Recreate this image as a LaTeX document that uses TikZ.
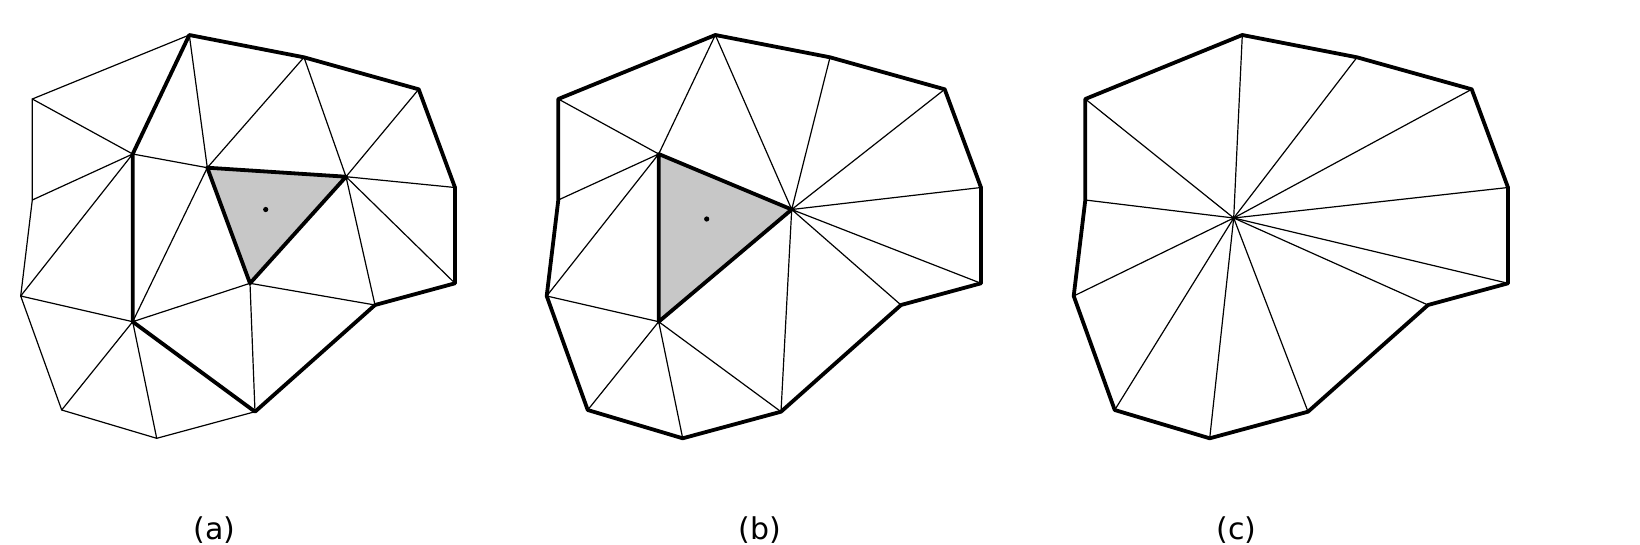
\documentclass[tikz,border=0pt]{standalone}
\usepackage{fontspec}
\newfontfamily\labfont{DejaVu Sans}
\definecolor{shade}{RGB}{199,199,199}
\tikzset{
  thinedge/.style={line width=1.2pt, line cap=round},
  thickedge/.style={line width=3.8pt, line join=round, line cap=round},
  cell/.style={fill=shade},
  ptdot/.style={fill=black},
  lab/.style={font=\labfont\fontsize{30}{36}\selectfont, anchor=base, inner sep=0pt}
}
\newcommand\outerpts[1]{%
  \coordinate (#1A) at (189.3,35);
  \coordinate (#1B) at (304,57.3);
  \coordinate (#1C) at (418.7,89.3);
  \coordinate (#1D) at (455,187.5);
  \coordinate (#1E) at (455,283.3);
  \coordinate (#1F) at (375,305);
  \coordinate (#1G) at (255,411.7);
  \coordinate (#1H) at (156.7,438.3);
  \coordinate (#1I) at (61.7,410);
  \coordinate (#1J) at (20.7,296);
  \coordinate (#1K) at (32.3,200);
  \coordinate (#1L) at (32.3,99);
}
\begin{document}
\begin{tikzpicture}[x=1pt,y=-1pt]
\useasboundingbox (0,0) rectangle (1640,544);
% ---------------- panel (a)
\outerpts{a}
\coordinate (aM) at (132.7,154);
\coordinate (aN) at (132.7,321.7);
\coordinate (aP) at (207.3,167.7);
\coordinate (aQ) at (346,176.7);
\coordinate (aR) at (250,283.3);
\fill[cell] (aP) -- (aQ) -- (aR) -- cycle;
\draw[thinedge] (aG) -- (aH) -- (aI) -- (aJ) -- (aK) -- (aL) -- (aA);
\draw[thinedge] (aL) -- (aM) (aK) -- (aM) (aJ) -- (aM) (aJ) -- (aN)
  (aI) -- (aN) (aH) -- (aN) (aG) -- (aR) (aN) -- (aR) (aN) -- (aP)
  (aM) -- (aP) (aA) -- (aP) (aP) -- (aB) (aB) -- (aQ) (aQ) -- (aC)
  (aQ) -- (aD) (aQ) -- (aE) (aQ) -- (aF) (aR) -- (aF);
\draw[thickedge] (aA) -- (aB) -- (aC) -- (aD) -- (aE) -- (aF) -- (aG) -- (aN) -- (aM) -- cycle;
\draw[thickedge] (aP) -- (aQ) -- (aR) -- cycle;
\fill[ptdot] (265.7,209.5) circle (2.6pt);
% ---------------- panel (b)
\begin{scope}[xshift=526pt]
\outerpts{b}
\coordinate (bM) at (132.7,154);
\coordinate (bN) at (132.7,321.7);
\coordinate (bQ) at (265.7,209.5);
\fill[cell] (bM) -- (bQ) -- (bN) -- cycle;
\draw[thinedge] (bQ) -- (bA) (bQ) -- (bB) (bQ) -- (bC) (bQ) -- (bD)
  (bQ) -- (bE) (bQ) -- (bF) (bQ) -- (bG)
  (bN) -- (bG) (bN) -- (bH) (bN) -- (bI) (bN) -- (bJ)
  (bM) -- (bJ) (bM) -- (bK) (bM) -- (bL) (bM) -- (bA);
\draw[thickedge] (bA) -- (bB) -- (bC) -- (bD) -- (bE) -- (bF) -- (bG) -- (bH) -- (bI) -- (bJ) -- (bK) -- (bL) -- cycle;
\draw[thickedge] (bM) -- (bQ) -- (bN) -- cycle;
\fill[ptdot] (180.7,219) circle (2.6pt);
\end{scope}
% ---------------- panel (c)
\begin{scope}[xshift=1053pt]
\outerpts{c}
\coordinate (cO) at (180.7,218);
\foreach \v in {A,B,C,D,E,F,G,H,I,J,K,L}
  \draw[thinedge] (cO) -- (c\v);
\draw[thickedge] (cA) -- (cB) -- (cC) -- (cD) -- (cE) -- (cF) -- (cG) -- (cH) -- (cI) -- (cJ) -- (cK) -- (cL) -- cycle;
\end{scope}
% ---------------- labels
\node[lab] (la) at (214.7,539) {(a)};
\node[lab] (lb) at (759.7,539) {(b)};
\node[lab] (lc) at (1236.3,539) {(c)};
\end{tikzpicture}
\end{document}
